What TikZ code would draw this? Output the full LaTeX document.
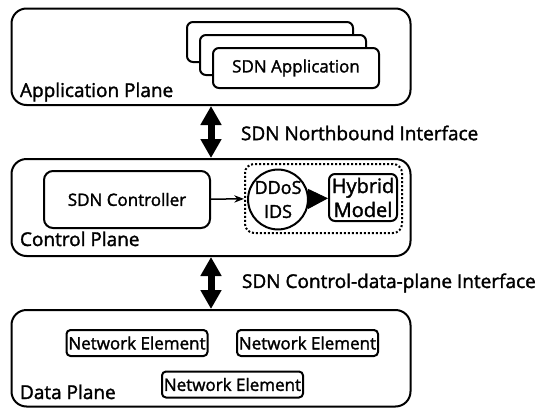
\documentclass[tikz,border=0pt]{standalone}
\usepackage{fontspec}
\setmainfont{Open Sans}[UprightFeatures={FakeBold=1.7}]
\usetikzlibrary{positioning,arrows.meta}

\begin{document}
\begin{tikzpicture}[x=1pt,y=-1pt,node distance=2em,>=Stealth,line width=2pt,
  plane/.style={draw,rounded corners=15pt,minimum width=399pt,inner sep=0pt},
  appbox/.style={draw,fill=white,rounded corners=6pt,minimum width=166pt,minimum height=40pt,font=\fontsize{17}{19}\selectfont},
  elem/.style={draw,rounded corners=4pt,inner sep=0pt,minimum width=141pt,minimum height=26pt,font=\fontsize{17}{19}\selectfont},
  planelabel/.style={anchor=base west,inner sep=0pt,font=\fontsize{19}{21}\selectfont},
  iface/.style={anchor=west,inner sep=0pt,font=\fontsize{19}{21}\selectfont},
  bigarrow/.style={{Triangle[width=20pt,length=19pt]}-{Triangle[width=20pt,length=19pt]},line width=7pt}]
\useasboundingbox (0,0) rectangle (550,413);

% application plane
\path node[plane,minimum height=96.5pt] (app) at (211,56.75) {};
\path node[appbox] (app1) at (270,42) {};
\path node[appbox] (app2) at (283,55) {};
\path node[appbox] (app3) at (296,68) {SDN Application};
\path node[planelabel] (applbl) at (19,97) {Application Plane};

% control plane
\path node[plane,minimum height=97pt] (ctrl) at (211,207.5) {};
\path node[draw,rounded corners=9pt,minimum width=166pt,minimum height=57pt,font=\fontsize{17}{19}\selectfont] (sdnc) at (127,199.5) {SDN Controller};
\path node[draw,dotted,rounded corners=9pt,minimum width=157pt,minimum height=69pt] (ids) at (323.5,198.5) {};
\path node[draw,circle,minimum size=52pt,inner sep=0pt,align=center,font=\fontsize{18}{24}\selectfont] (ddos) at (278,199.5) {DDoS\\IDS};
\path node[draw,rounded corners=6pt,minimum width=68pt,minimum height=47pt,inner sep=0pt,align=center,font=\fontsize{20}{24}\selectfont] (hyb) at (363,197.5) {Hybrid\\Model};
\draw[->,line width=1.5pt] (sdnc) -- (ids);
\draw[-{Triangle[width=20pt,length=20pt]},line width=1pt] (ddos) -- (hyb);
\path node[planelabel] (ctrllbl) at (19,246) {Control Plane};

% data plane
\path node[plane,minimum height=96.5pt] (data) at (211,358.25) {};
\path node[elem] (ne1) at (137,343) {Network Element};
\path node[elem] (ne2) at (307.5,343) {Network Element};
\path node[elem] (ne3) at (232.5,384.5) {Network Element};
\path node[planelabel] (datalbl) at (19,399) {Data Plane};

% interfaces
\draw[bigarrow] (app) -- (ctrl);
\path node[iface] (nb) at (240,133) {SDN Northbound Interface};
\draw[bigarrow] (ctrl) -- (data);
\path node[iface] (cd) at (241,283) {SDN Control-data-plane Interface};
\end{tikzpicture}
\end{document}
